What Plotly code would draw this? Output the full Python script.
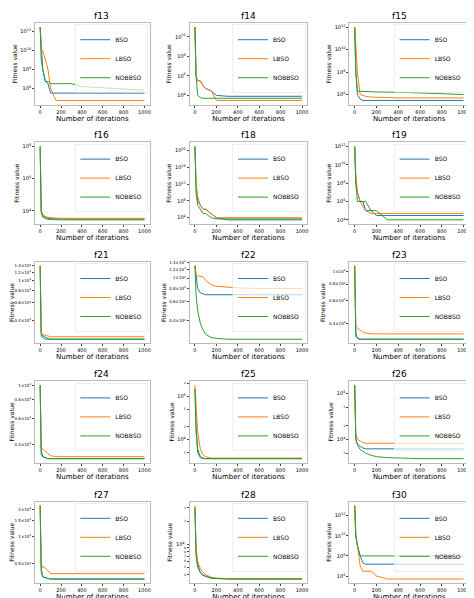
import plotly.graph_objects as go

iters = [0, 10, 25, 50, 75, 100, 150, 200, 300, 400, 600, 800, 1000]
names = ['f13', 'f14', 'f15', 'f16', 'f18', 'f19', 'f21', 'f22', 'f23',
         'f24', 'f25', 'f26', 'f27', 'f28', 'f30']

bso = {
    'f13': [3e12, 1e10, 1e8, 5e6, 3e6, 3e5, 3e5, 3e5, 3e5, 3e5, 3e5, 3e5, 3e5],
    'f14': [1e11, 1e6, 3e5, 3e5, 1e5, 5e4, 3e4, 1e4, 8e3, 8e3, 8e3, 8e3, 8e3],
    'f15': [1e12, 1e8, 1e6, 4e5, 3e5, 3e5, 3e5, 3e5, 3e5, 3e5, 3e5, 3e5, 3e5],
    'f16': [1e8, 1e4, 5e3, 4e3, 3.5e3, 3.3e3, 3.2e3, 3.1e3, 3.1e3, 3.1e3, 3.1e3, 3.1e3, 3.1e3],
    'f18': [1e21, 1e12, 1e8, 1e7, 1e6, 1e6, 1e5, 1e4, 3e3, 3e3, 3e3, 3e3, 3e3],
    'f19': [1e12, 1e8, 1e7, 1e6, 1e6, 1e5, 1e5, 3e4, 3e4, 3e4, 3e4, 3e4, 3e4],
    'f21': [1.4e4, 3e3, 2.8e3, 2.7e3, 2.65e3, 2.6e3, 2.6e3, 2.6e3, 2.6e3, 2.6e3, 2.6e3, 2.6e3, 2.6e3],
    'f22': [1.3e4, 1e4, 8e3, 7.3e3, 7.1e3, 7e3, 7e3, 7e3, 7e3, 7e3, 7e3, 7e3, 7e3],
    'f23': [1.1e4, 3.4e3, 3.1e3, 3.05e3, 3.05e3, 3.05e3, 3.05e3, 3.05e3, 3.05e3, 3.05e3, 3.05e3, 3.05e3, 3.05e3],
    'f24': [1e4, 3.6e3, 3.3e3, 3.25e3, 3.2e3, 3.2e3, 3.2e3, 3.2e3, 3.2e3, 3.2e3, 3.2e3, 3.2e3, 3.2e3],
    'f25': [1.5e5, 2e4, 6e3, 4e3, 3.7e3, 3.6e3, 3.6e3, 3.6e3, 3.6e3, 3.6e3, 3.6e3, 3.6e3, 3.6e3],
    'f26': [1.5e5, 1e4, 8e3, 7e3, 6.5e3, 6.2e3, 6.2e3, 6.2e3, 6.2e3, 6.2e3, 6.2e3, 6.2e3, 6.2e3],
    'f27': [2.2e4, 4.5e3, 3.6e3, 3.5e3, 3.45e3, 3.4e3, 3.4e3, 3.4e3, 3.4e3, 3.4e3, 3.4e3, 3.4e3, 3.4e3],
    'f28': [3e4, 8e3, 5.5e3, 4.2e3, 3.9e3, 3.8e3, 3.6e3, 3.55e3, 3.5e3, 3.5e3, 3.5e3, 3.5e3, 3.5e3],
    'f30': [1e13, 1e10, 1e9, 1e8, 2e7, 1.5e7, 1.5e7, 1.5e7, 1.5e7, 1.5e7, 1.5e7, 1.5e7, 1.5e7],
}
lbso = {
    'f13': [3e12, 1e10, 1e10, 1e9, 1e8, 1e6, 5e4, 5e4, 5e4, 5e4, 5e4, 5e4, 5e4],
    'f14': [1e11, 1e6, 3e5, 3e5, 1e5, 5e4, 3e4, 3e3, 3e3, 3e3, 3e3, 3e3, 3e3],
    'f15': [1e12, 1e10, 1e8, 1e6, 8e5, 7e5, 6e5, 6e5, 5.5e5, 5e5, 5e5, 5e5, 5e5],
    'f16': [1e8, 1e4, 6e3, 4.5e3, 4e3, 3.8e3, 3.6e3, 3.5e3, 3.5e3, 3.5e3, 3.5e3, 3.5e3, 3.5e3],
    'f18': [1e21, 1e12, 1e9, 1e7, 1e6, 1e6, 1e5, 1e4, 1e4, 1e4, 1e4, 1e4, 1e4],
    'f19': [1e12, 1e9, 1e7, 1e6, 3e5, 1e5, 5e4, 5e4, 5e4, 5e4, 5e4, 5e4, 5e4],
    'f21': [1.4e4, 3e3, 2.9e3, 2.85e3, 2.8e3, 2.75e3, 2.75e3, 2.75e3, 2.75e3, 2.75e3, 2.75e3, 2.75e3, 2.75e3],
    'f22': [1.3e4, 1.05e4, 1.05e4, 1.04e4, 1.03e4, 9.5e3, 8.7e3, 8.4e3, 8.2e3, 8.1e3, 8e3, 8e3, 8e3],
    'f23': [1.1e4, 3.8e3, 3.7e3, 3.55e3, 3.45e3, 3.4e3, 3.35e3, 3.35e3, 3.35e3, 3.35e3, 3.35e3, 3.35e3, 3.35e3],
    'f24': [1e4, 3.8e3, 3.7e3, 3.6e3, 3.45e3, 3.35e3, 3.3e3, 3.3e3, 3.3e3, 3.3e3, 3.3e3, 3.3e3, 3.3e3],
    'f25': [1.8e5, 5e4, 1.5e4, 6e3, 4.5e3, 4e3, 3.7e3, 3.7e3, 3.7e3, 3.7e3, 3.7e3, 3.7e3, 3.7e3],
    'f26': [1.5e5, 1.3e4, 1e4, 9e3, 8.5e3, 8.2e3, 8.2e3, 8.2e3, 8.2e3, 8.2e3, 8.2e3, 8.2e3, 8.2e3],
    'f27': [2.2e4, 5e3, 4.6e3, 4.5e3, 4.2e3, 3.9e3, 3.9e3, 3.9e3, 3.9e3, 3.9e3, 3.9e3, 3.9e3, 3.9e3],
    'f28': [3.2e4, 9e3, 6e3, 4.8e3, 4.3e3, 4e3, 3.7e3, 3.6e3, 3.55e3, 3.55e3, 3.55e3, 3.55e3, 3.55e3],
    'f30': [1e13, 1e10, 1e9, 1e7, 3e6, 3e6, 3e6, 1e6, 5e5, 5e5, 5e5, 5e5, 5e5],
}
nobbso = {
    'f13': [3e12, 1e9, 1e8, 5e6, 5e6, 3e6, 3e6, 3e6, 3e6, 1.5e6, 1.2e6, 8e5, 6e5],
    'f14': [1e11, 1e6, 1e4, 6e3, 5e3, 5e3, 5e3, 5e3, 5e3, 5e3, 5e3, 5e3, 5e3],
    'f15': [1e12, 1e8, 2e6, 2e6, 2e6, 2e6, 1.8e6, 1.7e6, 1.7e6, 1.6e6, 1.4e6, 1.1e6, 1e6],
    'f16': [1e8, 8e3, 4e3, 3.3e3, 3e3, 2.9e3, 2.8e3, 2.8e3, 2.8e3, 2.8e3, 2.8e3, 2.8e3, 2.8e3],
    'f18': [1e21, 1e10, 1e7, 1e6, 1e5, 1e5, 1e4, 5e3, 5e3, 5e3, 5e3, 5e3, 5e3],
    'f19': [1e12, 1e8, 1e6, 1e6, 1e6, 1e6, 1e5, 1e5, 1e4, 1e4, 1e4, 1e4, 1e4],
    'f21': [1.4e4, 2.8e3, 2.7e3, 2.6e3, 2.6e3, 2.6e3, 2.6e3, 2.6e3, 2.6e3, 2.6e3, 2.6e3, 2.6e3, 2.6e3],
    'f22': [1.3e4, 7e3, 5e3, 3.8e3, 3.3e3, 3e3, 2.8e3, 2.75e3, 2.7e3, 2.7e3, 2.7e3, 2.7e3, 2.7e3],
    'f23': [1.1e4, 3.2e3, 3.1e3, 3.05e3, 3.05e3, 3.05e3, 3.05e3, 3.05e3, 3.05e3, 3.05e3, 3.05e3, 3.05e3, 3.05e3],
    'f24': [1e4, 3.4e3, 3.3e3, 3.25e3, 3.2e3, 3.2e3, 3.2e3, 3.2e3, 3.2e3, 3.2e3, 3.2e3, 3.2e3, 3.2e3],
    'f25': [1.5e5, 1.5e4, 5e3, 3.8e3, 3.6e3, 3.6e3, 3.6e3, 3.6e3, 3.6e3, 3.6e3, 3.6e3, 3.6e3, 3.6e3],
    'f26': [1.5e5, 1e4, 7.5e3, 6e3, 5.5e3, 5e3, 4.5e3, 4.2e3, 4e3, 3.9e3, 3.8e3, 3.8e3, 3.8e3],
    'f27': [2.2e4, 4e3, 3.6e3, 3.5e3, 3.45e3, 3.4e3, 3.4e3, 3.4e3, 3.4e3, 3.4e3, 3.4e3, 3.4e3, 3.4e3],
    'f28': [3e4, 7e3, 5e3, 4.3e3, 4e3, 3.8e3, 3.6e3, 3.55e3, 3.5e3, 3.5e3, 3.5e3, 3.5e3, 3.5e3],
    'f30': [1e13, 1e10, 1e9, 1e8, 1e8, 1e8, 1e8, 1e8, 1e8, 1e8, 1e8, 1e8, 8e7],
}

colors = {'BSO': '#1f77b4', 'LBSO': '#ff7f0e', 'NOBBSO': '#2ca02c'}
W, H = 474, 598
col_px = [(27, 142), (182, 300), (342, 462)]
row_top = [12, 132, 252, 372, 493]
ph = 82

fig = go.Figure()
layout = {}
for i, nm in enumerate(names):
    r, c = divmod(i, 3)
    n = i + 1
    ax = '' if n == 1 else str(n)
    x0, x1 = col_px[c]
    y0 = 1 - (row_top[r] + ph) / H
    y1 = 1 - row_top[r] / H
    leg = 'legend' if n == 1 else f'legend{n}'
    for lab, data in (('BSO', bso), ('LBSO', lbso), ('NOBBSO', nobbso)):
        fig.add_trace(go.Scatter(
            x=iters, y=data[nm], mode='lines', name=lab,
            line=dict(color=colors[lab], width=1),
            xaxis='x' + ax, yaxis='y' + ax, legend=leg))
    layout['xaxis' + ax] = dict(
        domain=[x0 / W, x1 / W], anchor='y' + ax, range=[-50, 1050],
        tickvals=[0, 200, 400, 600, 800, 1000], tickfont=dict(size=5),
        ticks='outside', ticklen=2, showgrid=False, zeroline=False,
        mirror=True, showline=True, linecolor='#bbbbbb',
        title=dict(text='Number of iterations', font=dict(size=7), standoff=0))
    layout['yaxis' + ax] = dict(
        domain=[y0, y1], anchor='x' + ax, type='log', exponentformat='power',
        nticks=5, tickfont=dict(size=4), ticks='outside', ticklen=2, showgrid=False,
        mirror=True, showline=True, linecolor='#bbbbbb',
        title=dict(text='Fitness value', font=dict(size=6), standoff=2))
    layout[leg] = dict(x=x1 / W - 0.004, y=y1 - 0.003, xanchor='right', yanchor='top',
                       font=dict(size=6), bgcolor='rgba(255,255,255,0.7)',
                       bordercolor='#dddddd', borderwidth=0.5, itemwidth=30,
                       tracegroupgap=0)
    fig.add_annotation(text=nm, x=(x0 + x1) / 2 / W, y=y1, xref='paper', yref='paper',
                       yanchor='bottom', showarrow=False, font=dict(size=9, color='black'))

fig.update_layout(**layout)
fig.update_layout(width=W, height=H, margin=dict(l=0, r=0, t=0, b=0),
                  paper_bgcolor='white', plot_bgcolor='white',
                  font=dict(family='DejaVu Sans', color='black'))
fig.write_html("out.html")
